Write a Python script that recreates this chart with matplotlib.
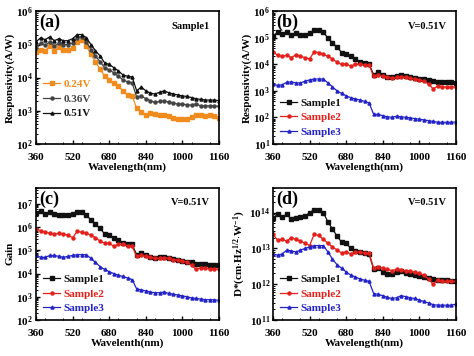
import matplotlib
matplotlib.use("Agg")
import matplotlib.pyplot as plt
from matplotlib.ticker import LogLocator, MultipleLocator, NullFormatter

plt.rcParams["font.family"] = ["Liberation Serif", "DejaVu Serif"]
plt.rcParams["font.weight"] = "bold"
plt.rcParams["mathtext.fontset"] = "custom"
plt.rcParams["mathtext.rm"] = "Liberation Serif:bold"
plt.rcParams["mathtext.it"] = "Liberation Serif:bold:italic"
plt.rcParams["mathtext.bf"] = "Liberation Serif:bold"

wavelength = list(range(360, 1161, 20))

# (a) responsivity of Sample1 at three biases
resp_024 = [6e4, 7e4, 6.5e4, 9e4, 6.5e4, 8.5e4, 7e4, 7e4, 8e4, 1.2e5, 1.4e5, 9e4, 5e4,
            3e4, 1.8e4, 1.1e4, 8.5e3, 7e3, 5.5e3, 4e3, 3e3, 2.8e3, 1.2e3, 9e2, 7.5e2,
            8.5e2, 8e2, 7.5e2, 7.5e2, 7e2, 6e2, 5.5e2, 5.5e2, 5.5e2, 6.5e2, 7.5e2,
            7.5e2, 7e2, 7.5e2, 7e2, 6e2]
resp_036 = [8e4, 1.1e5, 9.5e4, 1.2e5, 9e4, 1.1e5, 1e5, 1e5, 1.1e5, 1.6e5, 1.7e5, 1.2e5,
            7e4, 4.5e4, 3e4, 2e4, 1.7e4, 1.4e4, 1.1e4, 8.5e3, 7.5e3, 7e3, 2.6e3, 2.8e3,
            2.3e3, 2e3, 1.8e3, 1.9e3, 2e3, 1.8e3, 1.7e3, 1.6e3, 1.6e3, 1.5e3, 1.5e3,
            1.6e3, 1.4e3, 1.4e3, 1.4e3, 1.4e3, 1.35e3]
resp_s1 = [1.2e5, 1.6e5, 1.4e5, 1.7e5, 1.3e5, 1.5e5, 1.3e5, 1.3e5, 1.5e5, 2.0e5, 2.0e5,
           1.6e5, 1.0e5, 6.5e4, 4.5e4, 2.8e4, 2.5e4, 2.0e4, 1.6e4, 1.2e4, 1.1e4, 1.05e4,
           4.0e3, 5.2e3, 4.0e3, 3.4e3, 3.2e3, 3.6e3, 4.0e3, 3.5e3, 3.2e3, 3.0e3, 2.8e3,
           2.7e3, 2.5e3, 2.3e3, 2.2e3, 2.1e3, 2.1e3, 2.1e3, 2.0e3]
resp_s2 = [3.0e4, 2.2e4, 2.0e4, 2.2e4, 1.8e4, 2.3e4, 2.0e4, 1.8e4, 1.6e4, 3.0e4, 2.8e4,
           2.4e4, 2.0e4, 1.6e4, 1.2e4, 1.0e4, 1.05e4, 8.5e3, 1.0e4, 1.0e4, 9.5e3, 9.5e3,
           3.5e3, 4.0e3, 3.6e3, 3.3e3, 3.0e3, 3.2e3, 3.4e3, 3.2e3, 3.0e3, 2.8e3, 2.6e3,
           2.3e3, 1.8e3, 1.2e3, 1.5e3, 1.4e3, 1.4e3, 1.4e3, 1.4e3]
resp_s3 = [1.8e3, 1.6e3, 1.7e3, 2.1e3, 2.2e3, 2.0e3, 2.0e3, 2.3e3, 2.6e3, 2.8e3, 2.8e3,
           2.8e3, 2.0e3, 1.4e3, 1.0e3, 8.0e2, 6.5e2, 5.5e2, 5.0e2, 4.5e2, 4.0e2, 3.5e2,
           1.3e2, 1.3e2, 1.15e2, 1.05e2, 1.0e2, 1.1e2, 1.05e2, 1.0e2, 9.5e1, 9e1, 8.5e1,
           8e1, 7.5e1, 7e1, 6.5e1, 6.5e1, 6.5e1, 6.5e1, 6.7e1]

# (c) gain
gain_s1 = [4.0e6, 4.8e6, 3.8e6, 4.5e6, 3.5e6, 3.4e6, 3.3e6, 3.4e6, 3.6e6, 4.5e6, 4.5e6,
           3.4e6, 2.0e6, 1.3e6, 9.0e5, 5.0e5, 4.5e5, 3.5e5, 2.8e5, 2.0e5, 1.9e5, 1.8e5,
           6.5e4, 8.0e4, 6.0e4, 5.0e4, 4.6e4, 5.0e4, 5.3e4, 4.7e4, 4.2e4, 3.8e4, 3.5e4,
           3.3e4, 3.0e4, 2.7e4, 2.6e4, 2.5e4, 2.4e4, 2.4e4, 2.3e4]
gain_s2 = [8.5e5, 7e5, 6e5, 5.5e5, 5e5, 5.5e5, 5e5, 4.5e5, 3.5e5, 6.5e5, 6e5, 5.5e5,
           4.5e5, 3.5e5, 2.5e5, 2e5, 2e5, 1.5e5, 1.8e5, 1.8e5, 1.6e5, 1.5e5, 5.5e4, 6e4,
           5.5e4, 5e4, 4.5e4, 4.5e4, 4.8e4, 4.5e4, 4e4, 3.8e4, 3.5e4, 3e4, 2.3e4, 1.5e4,
           1.8e4, 1.7e4, 1.6e4, 1.6e4, 1.5e4]
gain_s3 = [6e4, 5e4, 5e4, 6e4, 6e4, 5.5e4, 5e4, 5.5e4, 6e4, 6.5e4, 6.5e4, 6.5e4, 4.5e4,
           3e4, 2e4, 1.5e4, 1.2e4, 1e4, 8.5e3, 7.5e3, 6.5e3, 5.5e3, 2.2e3, 2e3, 1.8e3,
           1.6e3, 1.5e3, 1.5e3, 1.6e3, 1.4e3, 1.3e3, 1.2e3, 1.1e3, 1e3, 9e2, 8.5e2, 8e2,
           7.5e2, 7.5e2, 7.5e2, 7e2]

# (d) detectivity
det_s1 = [7e13, 9e13, 7.5e13, 9e13, 6.5e13, 7e13, 7.5e13, 8e13, 1e14, 1.2e14, 1.2e14,
          1e14, 5.5e13, 3.5e13, 2.2e13, 1.5e13, 1.4e13, 1.0e13, 8.5e12, 8e12, 7.5e12,
          7e12, 2.6e12, 2.8e12, 2.2e12, 1.9e12, 1.9e12, 2.2e12, 2.3e12, 2.1e12, 1.9e12,
          1.8e12, 1.7e12, 1.6e12, 1.5e12, 1.4e12, 1.35e12, 1.3e12, 1.3e12, 1.25e12,
          1.25e12]
det_s2 = [2.5e13, 1.7e13, 1.8e13, 1.6e13, 2e13, 1.8e13, 1.6e13, 1.4e13, 1.2e13, 2.5e13,
          2.3e13, 1.8e13, 1.4e13, 1.1e13, 9e12, 7.5e12, 8e12, 7e12, 8e12, 8e12, 7.5e12,
          7.5e12, 2.8e12, 3e12, 2.8e12, 2.6e12, 2.4e12, 2.6e12, 2.5e12, 2.4e12, 2.3e12,
          2.2e12, 2e12, 1.8e12, 1.4e12, 1.0e12, 1.3e12, 1.2e12, 1.2e12, 1.2e12, 1.2e12]
det_s3 = [7e12, 6.5e12, 7e12, 9e12, 8.5e12, 8e12, 9e12, 1e13, 1.1e13, 1.2e13, 1.2e13,
          1.2e13, 8e12, 5e12, 3.5e12, 2.8e12, 2.2e12, 1.8e12, 1.6e12, 1.4e12, 1.3e12,
          1.2e12, 5.5e11, 5.2e11, 4.8e11, 4.3e11, 4e11, 4.2e11, 4.8e11, 4.5e11, 4.2e11,
          4e11, 3.6e11, 3.3e11, 3e11, 2.7e11, 2.6e11, 2.6e11, 2.6e11, 2.6e11, 2.8e11]

black = "#111111"
red = "#e3201b"
blue = "#2323c8"
orange = "#f08c1e"
grey = "#444444"

fontsize = 8
linewidth = 0.9
markersize = 2.2


def style_axis(ax, ylabel, ylim, tag, note, xlabel="Wavelength(nm)"):
    ax.set_yscale("log")
    ax.set_xlim(360, 1160)
    ax.set_ylim(*ylim)
    ax.set_xticks([360, 520, 680, 840, 1000, 1160])
    ax.xaxis.set_minor_locator(MultipleLocator(80))
    ax.yaxis.set_major_locator(LogLocator(base=10, numticks=20))
    ax.yaxis.set_minor_locator(LogLocator(base=10, subs=range(2, 10), numticks=20))
    ax.yaxis.set_minor_formatter(NullFormatter())
    ax.tick_params(which="both", direction="in", labelsize=fontsize)
    ax.tick_params(axis="x", pad=6.5)
    ax.tick_params(axis="y", pad=2)
    ax.tick_params(which="major", length=3, width=1)
    ax.tick_params(which="minor", length=1.5, width=0.7)
    for s in ax.spines.values():
        s.set_linewidth(1.2)
    ax.set_xlabel(xlabel, fontsize=fontsize, fontweight="bold", labelpad=0.5)
    ax.set_ylabel(ylabel, fontsize=fontsize, fontweight="bold", labelpad=1)
    ax.text(0.02, 0.98, tag, transform=ax.transAxes, fontsize=13,
            fontweight="bold", va="top", ha="left")
    ax.text(0.95, 0.92, note, transform=ax.transAxes, fontsize=7.5,
            fontweight="bold", va="top", ha="right")


def add_legend(ax, colors, loc, anchor):
    leg = ax.legend(loc=loc, bbox_to_anchor=anchor, frameon=False,
                    fontsize=fontsize, handlelength=1.6, handletextpad=0.3,
                    labelspacing=0.45, borderaxespad=0.2)
    for txt, c in zip(leg.get_texts(), colors):
        txt.set_color(c)
        txt.set_fontweight("bold")


fig = plt.figure(figsize=(4.74, 3.56), dpi=100)
w, h = 0.386, 0.372
ax_a = fig.add_axes([0.076, 0.596, w, h])
ax_b = fig.add_axes([0.576, 0.596, w, h])
ax_c = fig.add_axes([0.076, 0.101, w, h])
ax_d = fig.add_axes([0.576, 0.101, w, h])

kw = dict(linewidth=linewidth, markersize=markersize)

# (a)
ax_a.plot(wavelength, resp_024, "s-", color=orange, label="0.24V", **kw)
ax_a.plot(wavelength, resp_036, "o-", color=grey, label="0.36V", **kw)
ax_a.plot(wavelength, resp_s1, "^-", color=black, label="0.51V", **kw)
style_axis(ax_a, "Responsivity(A/W)", (1e2, 1e6), "(a)", "Sample1")
add_legend(ax_a, [orange, grey, black], "center left", (0.0, 0.34))

# (b)
ax_b.plot(wavelength, resp_s1, "s-", color=black, label="Sample1", **kw)
ax_b.plot(wavelength, resp_s2, "o-", color=red, label="Sample2", **kw)
ax_b.plot(wavelength, resp_s3, "^-", color=blue, label="Sample3", **kw)
style_axis(ax_b, "Responsivity(A/W)", (1e1, 1e6), "(b)", "V=0.51V")
add_legend(ax_b, [black, red, blue], "lower left", (0.0, 0.0))

# (c)
ax_c.plot(wavelength, gain_s1, "s-", color=black, label="Sample1", **kw)
ax_c.plot(wavelength, gain_s2, "o-", color=red, label="Sample2", **kw)
ax_c.plot(wavelength, gain_s3, "^-", color=blue, label="Sample3", **kw)
style_axis(ax_c, "Gain", (1e2, 5e7), "(c)", "V=0.51V", xlabel="Wavelenth(nm)")
add_legend(ax_c, [black, red, blue], "lower left", (0.0, 0.0))

# (d)
ax_d.plot(wavelength, det_s1, "s-", color=black, label="Sample1", **kw)
ax_d.plot(wavelength, det_s2, "o-", color=red, label="Sample2", **kw)
ax_d.plot(wavelength, det_s3, "^-", color=blue, label="Sample3", **kw)
style_axis(ax_d, r"D*(cm$\cdot$Hz$^{1/2}$$\cdot$W$^{-1}$)", (1e11, 5e14), "(d)",
           "V=0.51V")
add_legend(ax_d, [black, red, blue], "lower left", (0.0, 0.0))

fig.savefig("out.png", dpi=100)
